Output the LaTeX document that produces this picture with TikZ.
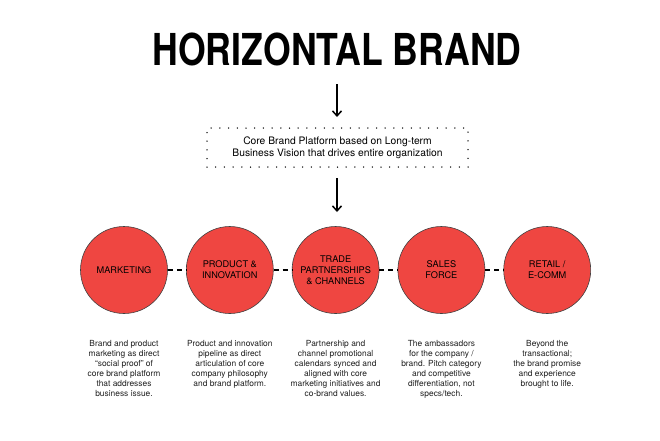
\documentclass[tikz,border=0pt]{standalone}
\usepackage{fontspec}
\setmainfont{TeX Gyre Heros}
\newfontfamily\titlefont[FakeStretch=0.81]{TeX Gyre Heros}
\usetikzlibrary{arrows.meta}
\definecolor{brandred}{HTML}{EF4641}
\definecolor{txtgray}{HTML}{1E1E1E}
\begin{document}
\begin{tikzpicture}[x=1pt,y=-1pt,
  circ/.style={circle, draw=black!75, line width=0.6pt, fill=brandred, minimum size=87pt, inner sep=0pt, align=center, font=\fontsize{9.2}{11}\selectfont, text=black},
  desc/.style={anchor=north, align=center, font=\fontsize{8.4}{10}\selectfont, text=txtgray},
  link/.style={dash pattern=on 5pt off 4pt, line width=1.5pt},
  arr/.style={-{Straight Barb[length=5pt,width=9pt]}, line width=1.5pt}]
\useasboundingbox (0,0) rectangle (660,440);
\node[font=\titlefont\bfseries\fontsize{44}{44}\selectfont, inner sep=0pt] (title) at (337,49) {HORIZONTAL BRAND};
\node[draw, dash pattern=on 0pt off 8.7pt, line cap=round, line width=1.5pt, minimum width=261pt, minimum height=39pt, align=center, font=\fontsize{10.3}{12}\selectfont] (platform) at (337.5,147.5) {Core Brand Platform based on Long-term\\Business Vision that drives entire organization};
\coordinate (a1s) at (337,84);
\coordinate (a1e) at (337,117);
\coordinate (a2s) at (337,178);
\coordinate (a2e) at (337,212);
\draw[arr] (a1s) -- (a1e);
\draw[arr] (a2s) -- (a2e);
\node[circ] (c1) at (124,270) {MARKETING};
\node[circ] (c2) at (229.8,270) {PRODUCT \&\\INNOVATION};
\node[circ] (c3) at (335.6,270) {TRADE\\PARTNERSHIPS\\\& CHANNELS};
\node[circ] (c4) at (441.4,270) {SALES\\FORCE};
\node[circ] (c5) at (547.2,270) {RETAIL /\\E-COMM};
\draw[link] (c1) -- (c2);
\draw[link] (c2) -- (c3);
\draw[link] (c3) -- (c4);
\draw[link] (c4) -- (c5);
\node[desc] (d1) at (124,337) {Brand and product\\marketing as direct\\“social proof” of\\core brand platform\\that addresses\\business issue.};
\node[desc] (d2) at (229.8,337) {Product and innovation\\pipeline as direct\\articulation of core\\company philosophy\\and brand platform.};
\node[desc] (d3) at (335.6,337) {Partnership and\\channel promotional\\calendars synced and\\aligned with core\\marketing initiatives and\\co-brand values.};
\node[desc] (d4) at (441.4,337) {The ambassadors\\for the company /\\brand. Pitch category\\and competitive\\differentiation, not\\specs/tech.};
\node[desc] (d5) at (547.2,337) {Beyond the\\transactional;\\the brand promise\\and experience\\brought to life.};
\end{tikzpicture}
\end{document}
